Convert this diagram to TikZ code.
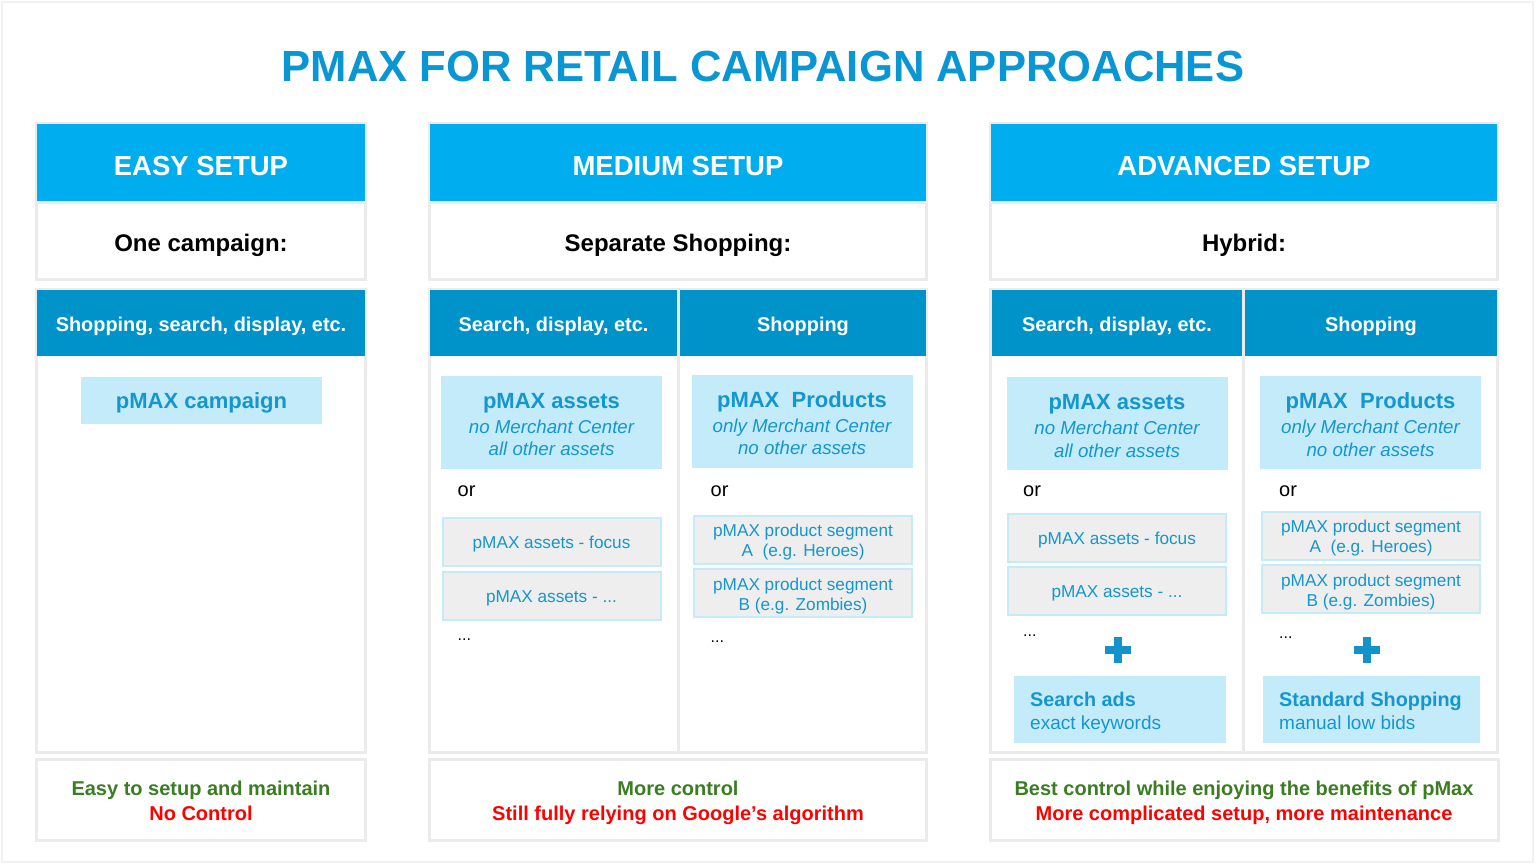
\documentclass[tikz,border=0pt]{standalone}
\usepackage{fontspec}
\setmainfont{Liberation Sans}
\definecolor{titleblue}{HTML}{0A96D2}
\definecolor{hdrblue}{HTML}{00AEEF}
\definecolor{subblue}{HTML}{0093C9}
\definecolor{lightcyan}{HTML}{C4EBFA}
\definecolor{boxtext}{HTML}{1596CF}
\definecolor{plusblue}{HTML}{1392CC}
\definecolor{framegray}{HTML}{EBEBEB}
\definecolor{boxgray}{HTML}{EEEEEE}
\definecolor{okgreen}{HTML}{3B7D23}
\definecolor{badred}{HTML}{FF0000}
\newcommand{\fs}[1]{\fontsize{#1}{#1}\selectfont}
\tikzset{
  frame/.style={draw=framegray, line width=3pt, fill=white, inner sep=0pt},
  hdrbox/.style={fill=hdrblue, inner sep=0pt, minimum height=78pt},
  hdrtxt/.style={text=white, inner sep=0pt, anchor=base, font=\bfseries\fs{27.5}},
  subtxt/.style={text=black, inner sep=0pt, anchor=base, font=\bfseries\fs{24}},
  darkhdr/.style={fill=subblue, inner sep=0pt, minimum height=66pt},
  darktxt/.style={text=white, inner sep=0pt, anchor=base, font=\bfseries\fs{19.9}},
  divider/.style={draw=framegray, line width=3pt},
  cyanbox/.style={fill=lightcyan, inner sep=0pt},
  bigtxt/.style={text=boxtext, inner sep=0pt, anchor=base, font=\bfseries\fs{22}},
  ittxt/.style={text=boxtext, inner sep=0pt, anchor=base, font=\itshape\fs{18.7}},
  graybox/.style={fill=boxgray, draw=lightcyan, line width=2pt, inner sep=0pt, minimum width=218pt, minimum height=48pt},
  graytxt/.style={text=boxtext, inner sep=0pt, anchor=base, font=\fs{17.2}},
  ortext/.style={text=black, inner sep=0pt, anchor=base west, font=\fs{20}},
  dots/.style={text=black, inner sep=0pt, anchor=base west, font=\fs{16}},
  plus/.style={draw=plusblue, line width=8pt},
  adtitle/.style={text=boxtext, inner sep=0pt, anchor=base west, font=\bfseries\fs{19.8}},
  adsub/.style={text=boxtext, inner sep=0pt, anchor=base west, font=\fs{19}},
  bottomtxt/.style={inner sep=0pt, anchor=base, font=\bfseries\fs{20}},
}
\begin{document}
\begin{tikzpicture}[x=1pt,y=-1pt]
\useasboundingbox (0,0) rectangle (1536,865);
\fill[white] (0,0) rectangle (1536,865);
\draw[framegray!70, line width=1.5pt] (2,2) rectangle (1533,862);

% title
\node[text=titleblue, font=\bfseries\fs{43.6}, inner sep=0pt, anchor=base] (title) at (763,81) {PMAX FOR RETAIL CAMPAIGN APPROACHES};

% ---------- frames ----------
\node[frame, minimum width=329pt, minimum height=156pt] (easyTop) at (201,201.5) {};
\node[frame, minimum width=329pt, minimum height=463pt] (easyMid) at (201,521) {};
\node[frame, minimum width=329pt, minimum height=81pt] (easyBot) at (201,800) {};
\node[frame, minimum width=497pt, minimum height=156pt] (medTop) at (678,201.5) {};
\node[frame, minimum width=497pt, minimum height=463pt] (medMid) at (678,521) {};
\node[frame, minimum width=497pt, minimum height=81pt] (medBot) at (678,800) {};
\node[frame, minimum width=507pt, minimum height=156pt] (advTop) at (1244,201.5) {};
\node[frame, minimum width=507pt, minimum height=463pt] (advMid) at (1244,521) {};
\node[frame, minimum width=508pt, minimum height=81pt] (advBot) at (1244.5,800) {};

% ---------- headers ----------
\node[hdrbox, minimum width=328pt] (easyH) at (201,163) {};
\node[hdrbox, minimum width=496pt] (medH) at (678,163) {};
\node[hdrbox, minimum width=506pt] (advH) at (1244,163) {};
\node[hdrtxt] (easyHt) at (201,175) {EASY SETUP};
\node[hdrtxt] (medHt) at (678,175) {MEDIUM SETUP};
\node[hdrtxt] (advHt) at (1244,175) {ADVANCED SETUP};

\draw[divider] (easyTop.west |- easyH.south) -- (easyTop.east |- easyH.south);
\draw[divider] (medTop.west |- medH.south) -- (medTop.east |- medH.south);
\draw[divider] (advTop.west |- advH.south) -- (advTop.east |- advH.south);

\node[subtxt] (easyS) at (201,251.5) {One campaign:};
\node[subtxt] (medS) at (678,251.5) {Separate Shopping:};
\node[subtxt] (advS) at (1244,251.5) {Hybrid:};

% ---------- dark sub headers ----------
\node[darkhdr, minimum width=328pt] (easyD) at (201,323) {};
\node[darkhdr, minimum width=247pt] (medDL) at (553.5,323) {};
\node[darkhdr, minimum width=246pt] (medDR) at (803,323) {};
\node[darkhdr, minimum width=250pt] (advDL) at (1117,323) {};
\node[darkhdr, minimum width=252pt] (advDR) at (1371,323) {};
\node[darktxt] (easyDt) at (201,331.5) {Shopping, search, display, etc.};
\node[darktxt] (medDLt) at (553.5,331.5) {Search, display, etc.};
\node[darktxt] (medDRt) at (803,331.5) {Shopping};
\node[darktxt] (advDLt) at (1117,331.5) {Search, display, etc.};
\node[darktxt] (advDRt) at (1371,331.5) {Shopping};

\draw[divider] (medDL.north east) ++(1.5,0) coordinate (mdt) (mdt) -- (mdt |- medMid.south);
\draw[divider] (advDL.north east) ++(1.5,0) coordinate (adt) (adt) -- (adt |- advMid.south);

% ---------- easy content ----------
\node[cyanbox, minimum width=241pt, minimum height=47pt] (easyC) at (201.5,400) {};
\node[bigtxt] (easyCt) at (201.5,408) {pMAX campaign};

% ---------- medium content ----------
\node[cyanbox, minimum width=221pt, minimum height=93pt] (medA) at (551.5,422.5) {};
\node[bigtxt] (medAt) at (551.5,408.3) {pMAX assets};
\node[ittxt] (medA1) at (551.5,433.3) {no Merchant Center};
\node[ittxt] (medA2) at (551.5,455) {all other assets};

\node[cyanbox, minimum width=221pt, minimum height=93pt] (medP) at (802,421.5) {};
\node[bigtxt] (medPt) at (802,407.7) {pMAX\ \ Products};
\node[ittxt] (medP1) at (802,432.3) {only Merchant Center};
\node[ittxt] (medP2) at (802,454.3) {no other assets};

\node[ortext] (medOrL) at (457.5,496) {or};
\node[ortext] (medOrR) at (710.5,496) {or};

\node[graybox] (medG1) at (551.5,542) {};
\node[graytxt] at (medG1.center |- 0,548.3) {pMAX assets - focus};
\node[graybox] (medG2) at (551.5,596) {};
\node[graytxt] at (medG2.center |- 0,602.7) {pMAX assets - ...};
\node[graybox] (medG3) at (803,540) {};
\node[graytxt] at (medG3.center |- 0,536) {pMAX product segment};
\node[graytxt] at (medG3.center |- 0,556.7) {A\ \ (e.g. Heroes)};
\node[graybox] (medG4) at (803,593.3) {};
\node[graytxt] at (medG4.center |- 0,590) {pMAX product segment};
\node[graytxt] at (medG4.center |- 0,610) {B (e.g. Zombies)};

\node[dots] (medDotL) at (457.5,640.7) {...};
\node[dots] (medDotR) at (710.5,642) {...};

% ---------- advanced content ----------
\node[cyanbox, minimum width=221pt, minimum height=93pt] (advA) at (1117,423.5) {};
\node[bigtxt] (advAt) at (1117,409.5) {pMAX assets};
\node[ittxt] (advA1) at (1117,434.5) {no Merchant Center};
\node[ittxt] (advA2) at (1117,457) {all other assets};

\node[cyanbox, minimum width=221pt, minimum height=93pt] (advP) at (1370.5,422.5) {};
\node[bigtxt] (advPt) at (1370.5,408.5) {pMAX\ \ Products};
\node[ittxt] (advP1) at (1370.5,433.5) {only Merchant Center};
\node[ittxt] (advP2) at (1370.5,456) {no other assets};

\node[ortext] (advOrL) at (1023,496) {or};
\node[ortext] (advOrR) at (1279,496) {or};

\node[graybox] (advG1) at (1117,537.5) {};
\node[graytxt] at (advG1.center |- 0,544) {pMAX assets - focus};
\node[graybox] (advG2) at (1117,591) {};
\node[graytxt] at (advG2.center |- 0,597.3) {pMAX assets - ...};
\node[graybox] (advG3) at (1371,536) {};
\node[graytxt] at (advG3.center |- 0,532.3) {pMAX product segment};
\node[graytxt] at (advG3.center |- 0,552.7) {A\ \ (e.g. Heroes)};
\node[graybox] (advG4) at (1371,589.3) {};
\node[graytxt] at (advG4.center |- 0,586) {pMAX product segment};
\node[graytxt] at (advG4.center |- 0,606) {B (e.g. Zombies)};

\node[dots] (advDotL) at (1023,636) {...};
\node[dots] (advDotR) at (1279,638.3) {...};

\coordinate (plusL) at (1118.3,650);
\coordinate (plusR) at (1367,650);
\draw[plus] ([xshift=-13pt]plusL) -- ([xshift=13pt]plusL);
\draw[plus] ([yshift=-13pt]plusL) -- ([yshift=13pt]plusL);
\draw[plus] ([xshift=-13pt]plusR) -- ([xshift=13pt]plusR);
\draw[plus] ([yshift=-13pt]plusR) -- ([yshift=13pt]plusR);

\node[cyanbox, minimum width=212pt, minimum height=67pt] (advS1) at (1120,709.5) {};
\node[adtitle] (advS1t) at (1030,706) {Search ads};
\node[adsub] (advS1s) at (1030,729.3) {exact keywords};

\node[cyanbox, minimum width=217pt, minimum height=67pt] (advS2) at (1371.5,709.5) {};
\node[adtitle] (advS2t) at (1279,706) {Standard Shopping};
\node[adsub] (advS2s) at (1279,729.3) {manual low bids};

% ---------- bottom texts ----------
\node[bottomtxt, text=okgreen] (easyB1) at (201,795) {Easy to setup and maintain};
\node[bottomtxt, text=badred] (easyB2) at (201,820) {No Control};
\node[bottomtxt, text=okgreen] (medB1) at (678,795) {More control};
\node[bottomtxt, text=badred] (medB2) at (678,820) {Still fully relying on Google’s algorithm};
\node[bottomtxt, text=okgreen] (advB1) at (1244,795) {Best control while enjoying the benefits of pMax};
\node[bottomtxt, text=badred] (advB2) at (1244,820) {More complicated setup, more maintenance};
\end{tikzpicture}
\end{document}
